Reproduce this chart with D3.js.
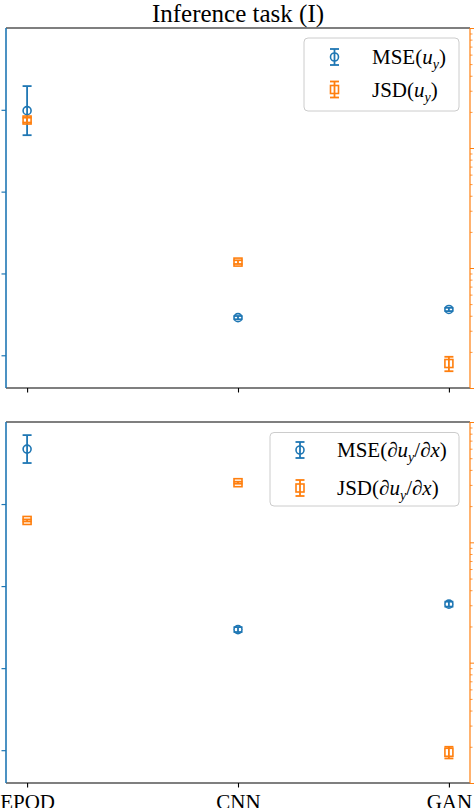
<!DOCTYPE html>
<html><head><meta charset="utf-8">
<script src="https://cdn.jsdelivr.net/npm/d3@7"></script>
<style>body{margin:0;background:#fff}svg{display:block}text{font-family:"Liberation Serif","Times New Roman",serif;fill:#000}</style>
</head><body><svg id="c" width="474" height="808"></svg>
<script>
const categories = ["EPOD", "CNN", "GAN"];
// panel 1: u_y
const mseUy = [3.99, 1.46, 1.56];
const mseUyErr = [0.30, 0.02, 0.02];
const jsdUy = [0.171, 0.0112, 0.0016];
const jsdUyErr = [0.008, 0.0004, 0.00022];
// panel 2: du_y/dx
const mseDx = [4.67, 2.47, 2.78];
const mseDxErr = [0.17, 0.03, 0.03];
const jsdDx = [0.152, 0.313, 0.0018];
const jsdDxErr = [0.003, 0.006, 0.0002];
const leftTicks = [1, 2, 3, 4];
const leftDomain = [0.6, 5.0];
const rightDomain = [1e-3, 1];
const title = "Inference task (I)";

const BLUE = "#1f77b4", ORANGE = "#ff7f0e";
const svg = d3.select("#c");
const X0 = 6, X1 = 470;
const x = d3.scalePoint().domain(categories).range([X0, X1]).padding(0.1);

svg.append("text").attr("x", 238).attr("y", 22).attr("text-anchor", "middle")
  .style("font-size", "25px").text(title);

function legendLabel(g, y, kind, deriv) {
  const t = g.append("text").attr("y", y).style("font-size", "21px");
  t.append("tspan").text(kind + "(");
  if (deriv) t.append("tspan").style("font-style", "italic").text("\u2202u");
  else t.append("tspan").style("font-style", "italic").text("u");
  t.append("tspan").style("font-style", "italic").style("font-size", "14px").attr("dy", 5).text("y");
  if (deriv) {
    t.append("tspan").attr("dy", -5).text("/");
    t.append("tspan").style("font-style", "italic").text("\u2202x");
    t.append("tspan").text(")");
  } else {
    t.append("tspan").attr("dy", -5).text(")");
  }
  return t;
}

function marker(g, cx, cy, shape, color) {
  if (shape === "circle") {
    g.append("circle").attr("cx", cx).attr("cy", cy).attr("r", 4)
      .attr("fill", "none").attr("stroke", color).attr("stroke-width", 1.6);
  } else {
    g.append("rect").attr("x", cx - 4).attr("y", cy - 4).attr("width", 8).attr("height", 8)
      .attr("fill", "none").attr("stroke", color).attr("stroke-width", 1.6);
  }
}

function errbar(g, cx, yTop, yBot, color) {
  g.append("line").attr("x1", cx).attr("x2", cx).attr("y1", yTop).attr("y2", yBot)
    .attr("stroke", color).attr("stroke-width", 1.8);
  [yTop, yBot].forEach(yy => g.append("line").attr("x1", cx - 4.5).attr("x2", cx + 4.5)
    .attr("y1", yy).attr("y2", yy).attr("stroke", color).attr("stroke-width", 1.8));
}

function panel(top, bottom, mse, mseErr, jsd, jsdErr, deriv, showLabels, leg) {
  const g = svg.append("g");
  const yL = d3.scaleLinear().domain(leftDomain).range([bottom, top]);
  const yR = d3.scaleLog().domain(rightDomain).range([bottom, top]);

  // left axis (blue)
  const la = g.append("g").attr("transform", `translate(${X0},0)`)
    .call(d3.axisLeft(yL).tickValues(leftTicks).tickSize(4.5).tickFormat(""));
  la.select(".domain").remove();
  la.selectAll(".tick line").attr("stroke", BLUE).attr("stroke-width", 1.2);

  // right axis (orange, log)
  const majors = yR.ticks().filter(v => Math.abs(Math.log10(v) - Math.round(Math.log10(v))) < 1e-9);
  const minors = yR.ticks().filter(v => !majors.includes(v));
  const ra = g.append("g").attr("transform", `translate(${X1},0)`)
    .call(d3.axisRight(yR).tickValues(majors).tickSize(4).tickFormat(""));
  ra.select(".domain").remove();
  ra.selectAll(".tick line").attr("stroke", ORANGE).attr("stroke-width", 1);
  const rm = g.append("g").attr("transform", `translate(${X1},0)`)
    .call(d3.axisRight(yR).tickValues(minors).tickSize(2.5).tickFormat(""));
  rm.select(".domain").remove();
  rm.selectAll(".tick line").attr("stroke", ORANGE).attr("stroke-width", 0.8);

  // bottom axis
  const ba = g.append("g").attr("transform", `translate(0,${bottom})`)
    .call(d3.axisBottom(x).tickSize(4.5).tickPadding(3));
  ba.select(".domain").remove();
  ba.selectAll(".tick line").attr("stroke", "#000").attr("stroke-width", 1.1);
  ba.selectAll(".tick text").attr("font-family", null).style("font-size", "21px")
    .style("opacity", showLabels ? 1 : 0).attr("y", 11).attr("dy", "0.71em");

  // spines
  g.append("line").attr("x1", X0).attr("x2", X1).attr("y1", top).attr("y2", top).attr("stroke", "#000").attr("stroke-width", 1.2);
  g.append("line").attr("x1", X0).attr("x2", X1).attr("y1", bottom).attr("y2", bottom).attr("stroke", "#000").attr("stroke-width", 1.2);
  g.append("line").attr("x1", X0).attr("x2", X0).attr("y1", top).attr("y2", bottom).attr("stroke", BLUE).attr("stroke-width", 1.6);
  g.append("line").attr("x1", X1).attr("x2", X1).attr("y1", top).attr("y2", bottom).attr("stroke", ORANGE).attr("stroke-width", 1.2);

  // data: MSE (left)
  categories.forEach((c, i) => {
    errbar(g, x(c), yL(mse[i] + mseErr[i]), yL(mse[i] - mseErr[i]), BLUE);
    marker(g, x(c), yL(mse[i]), "circle", BLUE);
  });
  // data: JSD (right)
  categories.forEach((c, i) => {
    errbar(g, x(c), yR(jsd[i] + jsdErr[i]), yR(jsd[i] - jsdErr[i]), ORANGE);
    marker(g, x(c), yR(jsd[i]), "square", ORANGE);
  });

  // legend
  const lg = g.append("g");
  lg.append("rect").attr("x", leg.x0).attr("y", leg.y0).attr("width", leg.x1 - leg.x0)
    .attr("height", leg.y1 - leg.y0).attr("rx", 4).attr("fill", "#fff").attr("fill-opacity", 0.8)
    .attr("stroke", "#cccccc").attr("stroke-width", 1);
  [["MSE", BLUE, "circle", leg.r1], ["JSD", ORANGE, "square", leg.r2]].forEach(([k, col, sh, cy]) => {
    errbar(lg, leg.ix, cy - 8, cy + 8, col);
    marker(lg, leg.ix, cy, sh, col);
    legendLabel(lg, cy + 7, k, deriv).attr("x", leg.tx);
  });
}

panel(28, 388, mseUy, mseUyErr, jsdUy, jsdUyErr, false, false,
  {x0: 304, x1: 459, y0: 38, y1: 111, ix: 334.5, tx: 372, r1: 57, r2: 89.5});
panel(422, 783, mseDx, mseDxErr, jsdDx, jsdDxErr, true, true,
  {x0: 270, x1: 459, y0: 432.5, y1: 506, ix: 300, tx: 337, r1: 450, r2: 488});
</script></body></html>
